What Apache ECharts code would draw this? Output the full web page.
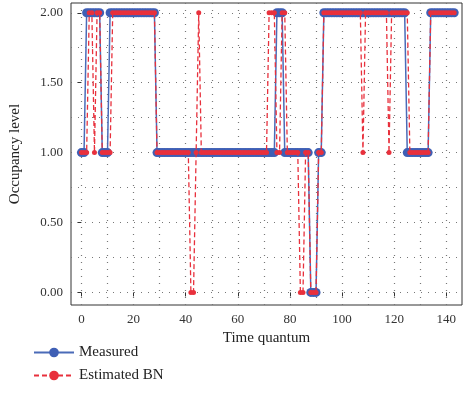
<!DOCTYPE html>
<html>
<head>
<meta charset="utf-8">
<script src="https://cdn.jsdelivr.net/npm/echarts@6/dist/echarts.min.js"></script>
<style>html,body{margin:0;background:#fff}#c{width:474px;height:400px}</style>
</head>
<body>
<div id="c"></div>
<script>
var measured = [
  1,1,2,2,2,2,2,2,1,1,
  1,2,2,2,2,2,2,2,2,2,
  2,2,2,2,2,2,2,2,2,1,
  1,1,1,1,1,1,1,1,1,1,
  1,1,1,1,1,1,1,1,1,1,
  1,1,1,1,1,1,1,1,1,1,
  1,1,1,1,1,1,1,1,1,1,
  1,1,1,1,1,2,2,2,1,1,
  1,1,1,1,1,1,1,1,0,0,
  0,1,1,2,2,2,2,2,2,2,
  2,2,2,2,2,2,2,2,2,2,
  2,2,2,2,2,2,2,2,2,2,
  2,2,2,2,2,1,1,1,1,1,
  1,1,1,1,2,2,2,2,2,2,
  2,2,2,2
];
var estimated = [
  1,1,1,2,2,1,2,2,1,1,
  1,1,2,2,2,2,2,2,2,2,
  2,2,2,2,2,2,2,2,2,1,
  1,1,1,1,1,1,1,1,1,1,
  1,1,0,0,1,2,1,1,1,1,
  1,1,1,1,1,1,1,1,1,1,
  1,1,1,1,1,1,1,1,1,1,
  1,1,2,2,2,1,1,2,2,1,
  1,1,1,1,0,0,1,1,0,0,
  0,1,1,2,2,2,2,2,2,2,
  2,2,2,2,2,2,2,2,1,2,
  2,2,2,2,2,2,2,2,1,2,
  2,2,2,2,2,2,1,1,1,1,
  1,1,1,1,2,2,2,2,2,2,
  2,2,2,2
];
var xTicks = [0, 20, 40, 60, 80, 100, 120, 140];
var yTicks = [0, 0.5, 1, 1.5, 2];
var xGrid = [0, 10, 20, 30, 40, 50, 60, 70, 80, 90, 100, 110, 120, 130, 140];
var yGrid = [0, 0.25, 0.5, 0.75, 1, 1.25, 1.5, 1.75, 2];

function pairs(arr) { return arr.map(function (v, i) { return [i, v]; }); }
function gridLines(vals, axis) {
  return vals.map(function (v) { var o = {}; o[axis] = v; return o; });
}

var chart = echarts.init(document.getElementById('c'));
var font = 'Liberation Serif';
chart.setOption({
  animation: false,
  textStyle: { fontFamily: font },
  grid: { left: 67, right: 12, top: 3, bottom: 95, show: true, borderColor: '#333', borderWidth: 1 },
  legend: {
    orient: 'vertical', left: 28, top: 340, itemGap: 8, itemWidth: 40, itemHeight: 12,
    textStyle: { fontSize: 15, color: '#222', fontFamily: font },
    data: ['Measured', 'Estimated BN']
  },
  xAxis: {
    type: 'value', min: -4, max: 146,
    name: 'Time quantum', nameLocation: 'middle', nameGap: 26,
    nameTextStyle: { fontSize: 15, color: '#222' },
    axisLine: { show: false },
    axisTick: { show: true, customValues: xTicks, length: 4, lineStyle: { color: '#333' } },
    axisLabel: { customValues: xTicks, color: '#333', fontSize: 13 },
    splitLine: { show: false }
  },
  yAxis: {
    type: 'value', min: -0.09, max: 2.07,
    name: 'Occupancy level', nameLocation: 'middle', nameGap: 48,
    nameTextStyle: { fontSize: 15, color: '#222' },
    axisLine: { show: false },
    axisTick: { show: true, customValues: yTicks, length: 4, lineStyle: { color: '#333' } },
    axisLabel: { customValues: yTicks, color: '#333', fontSize: 13, formatter: function (v) { return v.toFixed(2); } },
    splitLine: { show: false }
  },
  series: [{
    name: 'Measured', type: 'line', data: pairs(measured),
    symbol: 'circle', symbolSize: 9, z: 2,
    lineStyle: { color: '#4a6bb8', width: 1.5 },
    itemStyle: { color: '#3f5fb5' },
    markLine: {
      silent: true, symbol: 'none', label: { show: false },
      lineStyle: { color: '#777', type: [1, 6], width: 1.2 },
      data: gridLines(xGrid, 'xAxis').concat(gridLines(yGrid, 'yAxis')),
      z: 0
    }
  }, {
    name: 'Estimated BN', type: 'line', data: pairs(estimated),
    symbol: 'circle', symbolSize: 5, z: 3,
    lineStyle: { color: '#e8303c', width: 1.3, type: [5, 3] },
    itemStyle: { color: '#e8303c' }
  }]
});
</script>
</body>
</html>
